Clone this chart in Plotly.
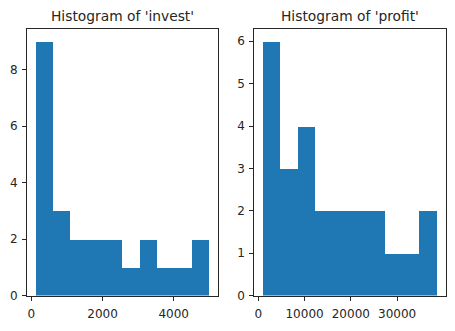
import plotly.graph_objects as go

# Histogram bin edges and counts for each variable
invest_edges = [120, 608, 1096, 1584, 2072, 2560, 3048, 3536, 4024, 4512, 5000]
invest_counts = [9, 3, 2, 2, 2, 1, 2, 1, 1, 2]

profit_edges = [1028, 4792, 8556, 12320, 16084, 19848, 23612, 27376, 31140, 34904, 38668]
profit_counts = [6, 3, 4, 2, 2, 2, 2, 1, 1, 2]

titles = ["Histogram of 'invest'", "Histogram of 'profit'"]
invest_xticks = [0, 2000, 4000]
profit_xticks = [0, 10000, 20000, 30000]
invest_yticks = [0, 2, 4, 6, 8]
profit_yticks = [0, 1, 2, 3, 4, 5, 6]

BAR = "#1f77b4"
INK = "#262626"
FONT = "DejaVu Sans"


def bar_trace(edges, counts, xa, ya):
    centers = [(a + b) / 2 for a, b in zip(edges[:-1], edges[1:])]
    widths = [b - a for a, b in zip(edges[:-1], edges[1:])]
    return go.Bar(x=centers, y=counts, width=widths, marker=dict(color=BAR, line=dict(width=0)),
                  xaxis=xa, yaxis=ya, showlegend=False, hoverinfo="x+y")


def padded(lo, hi, frac=0.05):
    span = hi - lo
    return [lo - frac * span, hi + frac * span]


fig = go.Figure()
fig.add_trace(bar_trace(invest_edges, invest_counts, "x", "y"))
fig.add_trace(bar_trace(profit_edges, profit_counts, "x2", "y2"))

axis_common = dict(showline=True, linecolor=INK, linewidth=1, mirror=True, ticks="outside",
                   ticklen=4, tickwidth=1, tickcolor=INK, showgrid=False, zeroline=False,
                   tickfont=dict(family=FONT, size=12, color=INK))

ydom = [0.0876, 0.912]
fig.update_layout(
    width=455, height=331, margin=dict(l=0, r=0, t=0, b=0),
    paper_bgcolor="white", plot_bgcolor="white", bargap=0,
    xaxis=dict(domain=[0.0593, 0.479], range=padded(invest_edges[0], invest_edges[-1]),
               tickvals=invest_xticks, ticktext=[str(v) for v in invest_xticks],
               anchor="y", ticklabelstandoff=3, **axis_common),
    yaxis=dict(domain=ydom, range=[0, max(invest_counts) * 1.05],
               tickvals=invest_yticks, ticktext=[str(v) for v in invest_yticks],
               anchor="x", ticklabelstandoff=2, **axis_common),
    xaxis2=dict(domain=[0.559, 0.980], range=padded(profit_edges[0], profit_edges[-1]),
                tickvals=profit_xticks, ticktext=[str(v) for v in profit_xticks],
                anchor="y2", ticklabelstandoff=3, **axis_common),
    yaxis2=dict(domain=ydom, range=[0, max(profit_counts) * 1.05],
                tickvals=profit_yticks, ticktext=[str(v) for v in profit_yticks],
                anchor="x2", ticklabelstandoff=2, **axis_common),
)

for title, dom in zip(titles, [[0.0593, 0.479], [0.559, 0.980]]):
    fig.add_annotation(text=title, x=(dom[0] + dom[1]) / 2, y=ydom[1], xref="paper", yref="paper",
                       xanchor="center", yanchor="bottom", yshift=3, showarrow=False,
                       font=dict(family=FONT, size=13.8, color=INK))

fig.write_html("out.html")
